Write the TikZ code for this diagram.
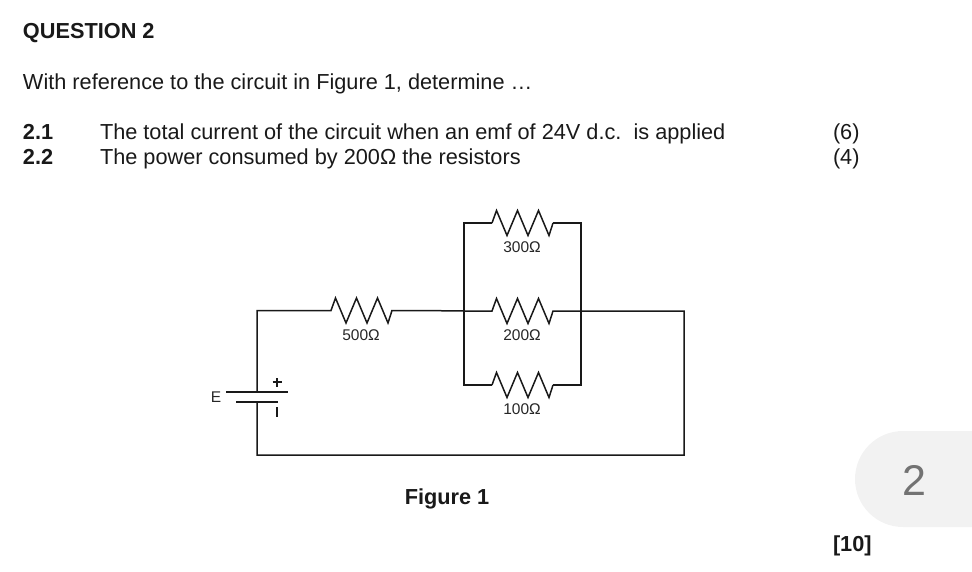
\documentclass[tikz,border=0pt]{standalone}
\usepackage{fontspec}
\setmainfont{Liberation Sans}
\newcommand{\pxfont}[1]{\fontsize{#1}{#1}\selectfont}
\tikzset{
  txt/.style={anchor=base west,inner sep=0pt,outer sep=0pt,text=black!90,font=\pxfont{21.72}},
  bold/.style={txt,font=\pxfont{21.72}\bfseries},
  val/.style={anchor=base,inner sep=0pt,outer sep=0pt,text=black!85,font=\pxfont{15.5}},
  wire/.style={line width=1.5pt,line join=miter,draw=black!90},
  mark stroke/.style={line width=2pt,draw=black!90},
}
\newcommand{\zig}{-- ++(4.5,-12.5) -- ++(10.5,25) -- ++(10.5,-25) -- ++(10.5,25) -- ++(10.5,-25) -- ++(10.5,25) -- ++(4,-12.5)}
\begin{document}
\begin{tikzpicture}[x=1pt,y=-1pt]
\useasboundingbox (0,0) rectangle (972,571);
\fill[fill=black!5] (972,431) -- (903,431) arc[start angle=270,end angle=90,radius=48] -- (972,527) -- cycle;
\node[anchor=base,inner sep=0pt,text=black!55,font=\pxfont{43}] (pg) at (914,495) {2};
\node[bold] (q) at (23,38) {QUESTION 2};
\node[txt] (intro) at (23,89) {With reference to the circuit in Figure 1, determine …};
\node[bold] (n1) at (23,139) {2.1};
\node[txt] (t1) at (100,139) {The total current of the circuit when an emf of 24V d.c.\ \ is applied};
\node[txt] (m1) at (833,139) {(6)};
\node[bold] (n2) at (23,164) {2.2};
\node[txt] (t2) at (100,164) {The power consumed by 200Ω the resistors};
\node[txt] (m2) at (833,164) {(4)};
\node[bold,anchor=base] (fig) at (447,504) {Figure 1};
\node[bold] (tot) at (833,551) {[10]};
% junctions
\coordinate (tl) at (257,310.5);
\coordinate (bl) at (257,455);
\coordinate (br) at (684,455);
\coordinate (tr) at (684,311);
\coordinate (pa) at (464,311);
\coordinate (pb) at (581,311);
\coordinate (ua) at (464,223);
\coordinate (ub) at (581,223);
\coordinate (la) at (464,385);
\coordinate (lb) at (581,385);
\coordinate (r5a) at (331,310.5);
\coordinate (r5b) at (391,310.5);
\coordinate (r3a) at (492,223);
\coordinate (r3b) at (553,223);
\coordinate (r2a) at (492,311);
\coordinate (r2b) at (553,311);
\coordinate (r1a) at (492,385);
\coordinate (r1b) at (553,385);
\coordinate (cp) at (257,392);
\coordinate (cn) at (257,402);
\coordinate (cpl) at (226,392);
\coordinate (cpr) at (288,392);
\coordinate (cnl) at (236,402);
\coordinate (cnr) at (278,402);
% wires
\draw[wire] (cp) -- (tl) -- (r5a) \zig{} -- (r5b) -- (420,310.5) -- (pa) -- (r2a) \zig{} -- (r2b) -- (pb) -- (tr) -- (br) -- (bl) -- (cn);
\draw[wire] (r3a) -- (ua) -- (la) -- (r1a);
\draw[wire] (r3b) -- (ub) -- (lb) -- (r1b);
\draw[wire] (r3a) \zig{} -- (r3b);
\draw[wire] (r1a) \zig{} -- (r1b);
% battery
\draw[wire] (cpl) -- (cpr);
\draw[wire] (cnl) -- (cnr);
\coordinate (ph) at (277,382);
\draw[mark stroke] ([xshift=-4.5pt]ph) -- ([xshift=4.5pt]ph);
\draw[mark stroke] ([yshift=-4.5pt]ph) -- ([yshift=4.5pt]ph);
\coordinate (mt) at (277,407);
\coordinate (mb) at (277,417);
\draw[mark stroke] (mt) -- (mb);
% labels
\node[val] (l5) at (361,340) {500Ω};
\node[val] (l3) at (522,252) {300Ω};
\node[val] (l2) at (522,340) {200Ω};
\node[val] (l1) at (522,414) {100Ω};
\node[val] (le) at (216,402) {E};
\end{tikzpicture}
\end{document}
